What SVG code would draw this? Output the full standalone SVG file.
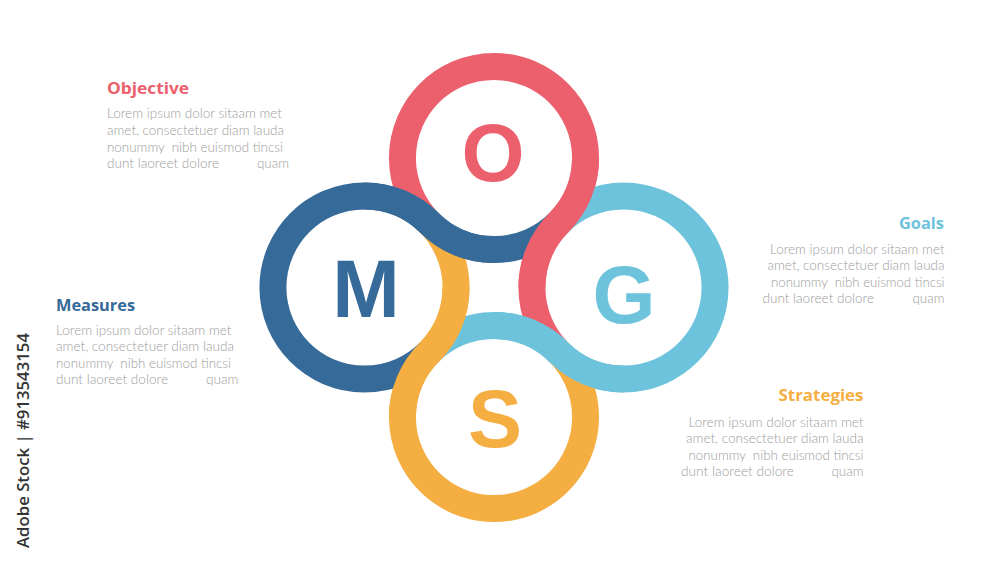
<svg xmlns="http://www.w3.org/2000/svg" width="1000" height="563" viewBox="0 0 1000 563">
<style>
.band{fill:none;stroke-width:27;stroke-linecap:butt}
.red{stroke:#EC606D}
.navy{stroke:#366A99}
.sky{stroke:#6DC3DB}
.amber{stroke:#F4AE42}
.letter{font-family:"Liberation Sans",Arial,sans-serif;font-weight:700;font-size:81px;text-anchor:middle}
.title{font-family:"Open Sans","Liberation Sans",sans-serif;font-weight:700;font-size:16px}
.body{font-family:Lato,"Liberation Sans",sans-serif;font-weight:300;font-size:14px;fill:#9C9C9C;white-space:pre}
.end{text-anchor:end}
</style>
<rect width="1000" height="563" fill="#FFFFFF"/>
<g id="bands">
<path class="band red" d="M429.25 222.75 A91.57 91.57 0 1 1 558.75 222.75 A91.57 91.57 0 0 0 558.75 352.25"/>
<path class="band sky" d="M558.75 222.75 A91.57 91.57 0 1 1 558.75 352.25 A91.57 91.57 0 0 0 429.25 352.25"/>
<path class="band amber" d="M558.75 352.25 A91.57 91.57 0 1 1 429.25 352.25 A91.57 91.57 0 0 0 429.25 222.75"/>
<path class="band navy" d="M429.25 352.25 A91.57 91.57 0 1 1 429.25 222.75 A91.57 91.57 0 0 0 558.75 222.75"/>
</g>
<g id="connectors">
<path class="band red" d="M585.57 158 A91.57 91.57 0 0 1 558.75 222.75 A91.57 91.57 0 0 0 531.93 287.5"/>
<path class="band sky" d="M623.5 379.07 A91.57 91.57 0 0 1 558.75 352.25 A91.57 91.57 0 0 0 494 325.43"/>
<path class="band amber" d="M402.43 417 A91.57 91.57 0 0 1 429.25 352.25 A91.57 91.57 0 0 0 456.07 287.5"/>
<path class="band navy" d="M364.5 195.93 A91.57 91.57 0 0 1 429.25 222.75 A91.57 91.57 0 0 0 494 249.57"/>
</g>
<g id="node-O"><text class="letter" x="493" y="181" fill="#EC606D">O</text></g>
<g id="node-M"><text class="letter" x="366" y="316.5" fill="#366A99">M</text></g>
<g id="node-G"><text class="letter" x="624" y="322.5" fill="#6DC3DB">G</text></g>
<g id="node-S"><text class="letter" x="495" y="446.5" fill="#F4AE42">S</text></g>
<g id="label-objective">
<text class="title" x="107" y="94" fill="#EC606D" textLength="82" lengthAdjust="spacingAndGlyphs">Objective</text>
<text class="body" x="107" y="118" textLength="175" lengthAdjust="spacingAndGlyphs">Lorem ipsum dolor sitaam met</text>
<text class="body" x="107" y="135" textLength="177" lengthAdjust="spacingAndGlyphs">amet, consectetuer diam lauda</text>
<text class="body" x="107" y="151.5" textLength="176" lengthAdjust="spacingAndGlyphs">nonummy  nibh euismod tincsi</text>
<text class="body" x="107" y="168" textLength="112" lengthAdjust="spacingAndGlyphs">dunt laoreet dolore</text>
<text class="body end" x="289" y="168" textLength="32" lengthAdjust="spacingAndGlyphs">quam</text>
</g>
<g id="label-measures">
<text class="title" x="56" y="311" fill="#366A99" textLength="79" lengthAdjust="spacingAndGlyphs">Measures</text>
<text class="body" x="56" y="334.5" textLength="175.5" lengthAdjust="spacingAndGlyphs">Lorem ipsum dolor sitaam met</text>
<text class="body" x="56" y="351" textLength="178" lengthAdjust="spacingAndGlyphs">amet, consectetuer diam lauda</text>
<text class="body" x="56" y="367.5" textLength="175" lengthAdjust="spacingAndGlyphs">nonummy  nibh euismod tincsi</text>
<text class="body" x="56" y="384" textLength="112" lengthAdjust="spacingAndGlyphs">dunt laoreet dolore</text>
<text class="body end" x="238.5" y="384" textLength="32.5" lengthAdjust="spacingAndGlyphs">quam</text>
</g>
<g id="label-goals">
<text class="title end" x="944" y="229" fill="#6DC3DB" textLength="45" lengthAdjust="spacingAndGlyphs">Goals</text>
<text class="body end" x="944.5" y="253.5" textLength="174.5" lengthAdjust="spacingAndGlyphs">Lorem ipsum dolor sitaam met</text>
<text class="body end" x="944.5" y="270" textLength="177" lengthAdjust="spacingAndGlyphs">amet, consectetuer diam lauda</text>
<text class="body end" x="944.5" y="286.5" textLength="173.5" lengthAdjust="spacingAndGlyphs">nonummy  nibh euismod tincsi</text>
<text class="body" x="762.5" y="302.5" textLength="111.5" lengthAdjust="spacingAndGlyphs">dunt laoreet dolore</text>
<text class="body end" x="944.5" y="302.5" textLength="32" lengthAdjust="spacingAndGlyphs">quam</text>
</g>
<g id="label-strategies">
<text class="title end" x="863.5" y="401" fill="#F4AE42" textLength="85" lengthAdjust="spacingAndGlyphs">Strategies</text>
<text class="body end" x="863.5" y="426.5" textLength="175" lengthAdjust="spacingAndGlyphs">Lorem ipsum dolor sitaam met</text>
<text class="body end" x="863.5" y="443" textLength="177.5" lengthAdjust="spacingAndGlyphs">amet, consectetuer diam lauda</text>
<text class="body end" x="863.5" y="459.5" textLength="175" lengthAdjust="spacingAndGlyphs">nonummy  nibh euismod tincsi</text>
<text class="body" x="681" y="476" textLength="113" lengthAdjust="spacingAndGlyphs">dunt laoreet dolore</text>
<text class="body end" x="863.5" y="476" textLength="32" lengthAdjust="spacingAndGlyphs">quam</text>
</g>
<g id="watermark">
<text transform="translate(29 548) rotate(-90)" x="0" y="0" font-family="'Open Sans','Liberation Sans',sans-serif" font-weight="600" font-size="17" fill="#333333" textLength="215" lengthAdjust="spacingAndGlyphs">Adobe Stock | #913543154</text>
</g>
</svg>
